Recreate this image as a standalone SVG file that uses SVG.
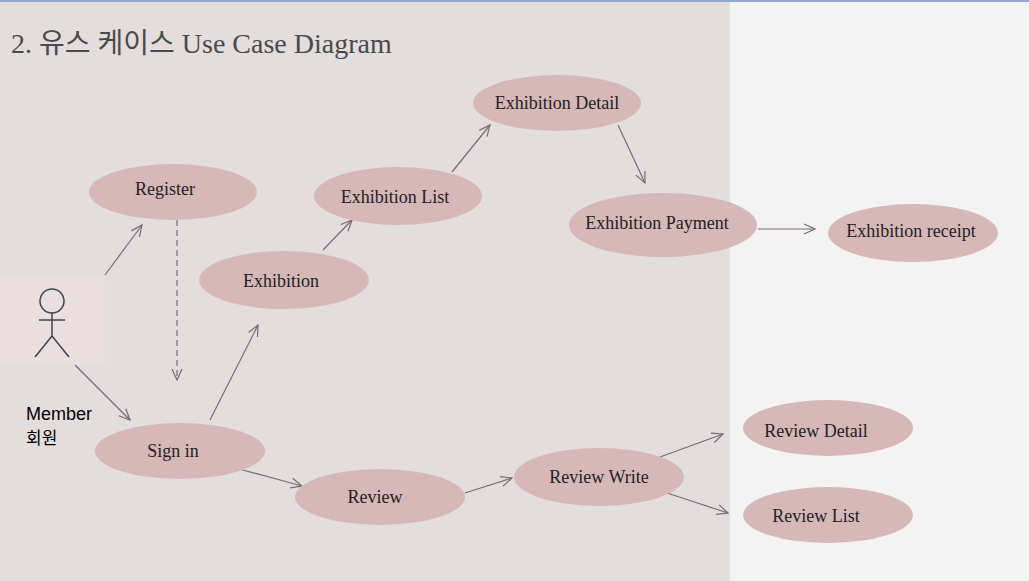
<svg xmlns="http://www.w3.org/2000/svg" width="1029" height="581" viewBox="0 0 1029 581">
<style>
.n ellipse{fill:#d6b8b8}
.n text{font-family:"Liberation Serif","Noto Sans CJK KR",serif;font-size:18px;fill:#222;text-anchor:middle}
.c line{stroke:#7a6a70;stroke-width:1.2;fill:none;marker-end:url(#a)}
</style>
<defs>
<marker id="a" markerWidth="14" markerHeight="14" refX="12" refY="6" orient="auto" markerUnits="userSpaceOnUse">
<path d="M1,1 L12,6 L1,11" fill="none" stroke="#7a6a70" stroke-width="1.2"/>
</marker>
</defs>
<rect width="1029" height="581" fill="#f3f3f3"/>
<rect width="730" height="581" fill="#e3dddd"/>
<rect width="1029" height="2" fill="#8fa8cc"/>
<text x="11" y="53" font-family="Liberation Serif,'Noto Sans CJK KR',serif" font-size="28" fill="#4a4a4a">2. 유스 케이스 Use Case Diagram</text>
<g id="actor">
<rect x="0" y="276" width="105" height="89" fill="#e9dfe1"/>
<g stroke="#444" stroke-width="1.5" fill="none">
<circle cx="52" cy="301" r="12"/>
<line x1="52" y1="313" x2="52" y2="336"/>
<line x1="39" y1="320" x2="65" y2="320"/>
<line x1="52" y1="336" x2="35" y2="357"/>
<line x1="52" y1="336" x2="69" y2="357"/>
</g>
<text x="26" y="420" font-family="Liberation Sans,sans-serif" font-size="18" fill="#000">Member</text>
<text x="26" y="444" font-family="'Noto Sans CJK KR',sans-serif" font-size="17" fill="#000">회원</text>
</g>
<g class="c">
<line x1="105" y1="275" x2="142" y2="225"/>
<line x1="177" y1="220" x2="177" y2="380" stroke-dasharray="6,4"/>
<line x1="75" y1="365" x2="130" y2="420"/>
<line x1="210" y1="420" x2="258" y2="325"/>
<line x1="323" y1="250" x2="352" y2="220"/>
<line x1="452" y1="172" x2="490" y2="125"/>
<line x1="618" y1="125" x2="645" y2="183"/>
<line x1="758" y1="229" x2="815" y2="229"/>
<line x1="232" y1="467" x2="302" y2="486"/>
<line x1="465" y1="493" x2="512" y2="478"/>
<line x1="660" y1="457" x2="723" y2="434"/>
<line x1="664" y1="492" x2="728" y2="513"/>
</g>
<g id="register" class="n"><ellipse cx="173" cy="192" rx="84" ry="28"/><text x="165" y="195">Register</text></g>
<g id="exlist" class="n"><ellipse cx="398" cy="196" rx="84" ry="29"/><text x="395" y="203">Exhibition List</text></g>
<g id="exdetail" class="n"><ellipse cx="557" cy="103" rx="84" ry="28"/><text x="557" y="109">Exhibition Detail</text></g>
<g id="exhibition" class="n"><ellipse cx="284" cy="280" rx="85" ry="29"/><text x="281" y="287">Exhibition</text></g>
<g id="expay" class="n"><ellipse cx="663" cy="225" rx="94" ry="32"/><text x="657" y="229">Exhibition Payment</text></g>
<g id="exreceipt" class="n"><ellipse cx="913" cy="233" rx="85" ry="29"/><text x="911" y="237">Exhibition receipt</text></g>
<g id="signin" class="n"><ellipse cx="180" cy="451" rx="85" ry="28"/><text x="173" y="457">Sign in</text></g>
<g id="review" class="n"><ellipse cx="380" cy="497" rx="85" ry="28"/><text x="375" y="503">Review</text></g>
<g id="reviewwrite" class="n"><ellipse cx="599" cy="477" rx="85" ry="29"/><text x="599" y="483">Review Write</text></g>
<g id="reviewdetail" class="n"><ellipse cx="828" cy="428" rx="85" ry="28"/><text x="816" y="437">Review Detail</text></g>
<g id="reviewlist" class="n"><ellipse cx="828" cy="515" rx="85" ry="28"/><text x="816" y="522">Review List</text></g>
</svg>
